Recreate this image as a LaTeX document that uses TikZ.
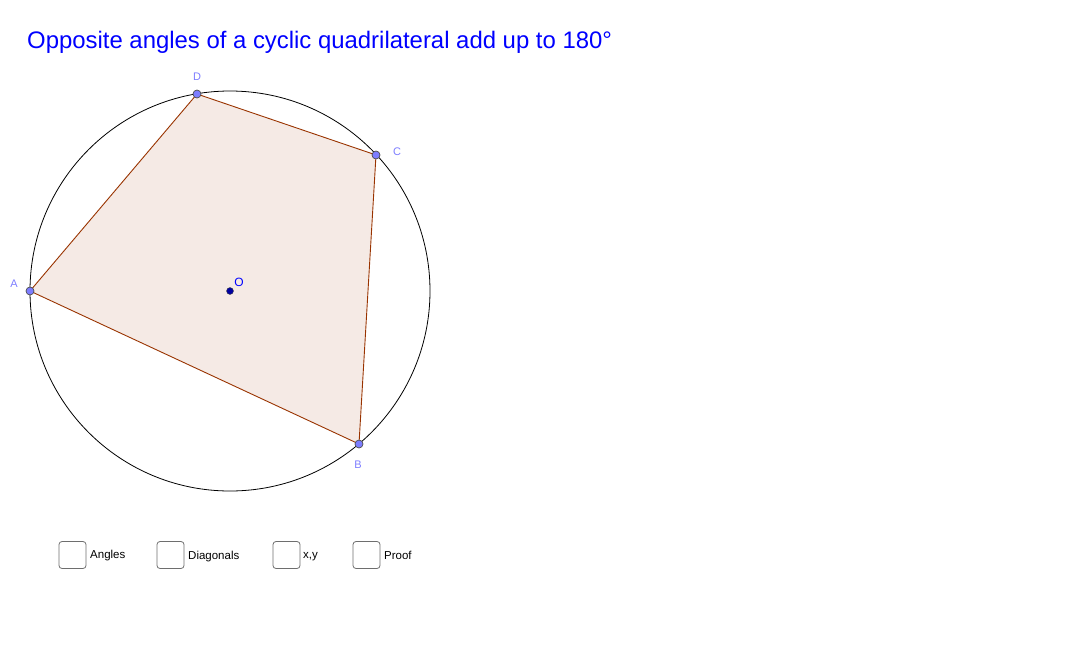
\documentclass[tikz,border=0pt]{standalone}
\usepackage{fontspec}
\setmainfont{Liberation Sans}
\definecolor{ptblue}{RGB}{125,125,255}
\definecolor{oblue}{RGB}{0,0,160}
\definecolor{edge}{RGB}{153,51,0}
\definecolor{boxgray}{RGB}{110,110,110}
\tikzset{
  pt/.style={circle,draw=black!70,fill=ptblue,inner sep=0pt,minimum size=8pt,line width=0.7pt},
  ptlabel/.style={text=ptblue,font=\fontsize{11}{13}\selectfont,inner sep=0pt},
  checkbox/.style={draw=boxgray,rounded corners=3pt,minimum width=27pt,minimum height=27pt,inner sep=0pt,line width=0.8pt},
  boxlabel/.style={font=\fontsize{11.5}{13}\selectfont,anchor=west,inner sep=0pt}
}
\begin{document}
\begin{tikzpicture}[x=1pt,y=-1pt]
\useasboundingbox (0,0) rectangle (1076,664);
\node[anchor=base west,inner sep=0pt,text=blue,font=\fontsize{23.9}{28}\selectfont] (title) at (27,48) {Opposite angles of a cyclic quadrilateral add up to 180°};
% circle and quadrilateral
\coordinate (O) at (230,291);
\coordinate (A) at (30,291);
\coordinate (B) at (359,444);
\coordinate (C) at (376,155);
\coordinate (D) at (197,94);
\draw[black,line width=0.8pt] (O) circle (200);
\filldraw[draw=edge,fill=edge,fill opacity=0.1,line width=0.9pt] (A) -- (B) -- (C) -- (D) -- cycle;
\node[pt] (pA) at (A) {};
\node[pt] (pB) at (B) {};
\node[pt] (pC) at (C) {};
\node[pt] (pD) at (D) {};
\node[circle,draw=black!70,fill=oblue,inner sep=0pt,minimum size=7pt] (pO) at (O) {};
\node[ptlabel] (lA) at (14,284) {A};
\node[ptlabel] (lB) at (358,465) {B};
\node[ptlabel] (lC) at (397,152) {C};
\node[ptlabel] (lD) at (197,77) {D};
\node[text=blue,font=\fontsize{12}{14}\selectfont,inner sep=0pt] (lO) at (239,282) {O};
% check boxes
\node[checkbox] (cb1) at (72.5,555) {};
\node[boxlabel] at (90,555.5) {Angles};
\node[checkbox] (cb2) at (170.5,555) {};
\node[boxlabel] at (188,556.5) {Diagonals};
\node[checkbox] (cb3) at (286.5,555) {};
\node[boxlabel] at (303,556.5) {x,y};
\node[checkbox] (cb4) at (366.5,555) {};
\node[boxlabel] at (384,555.5) {Proof};
\end{tikzpicture}
\end{document}
